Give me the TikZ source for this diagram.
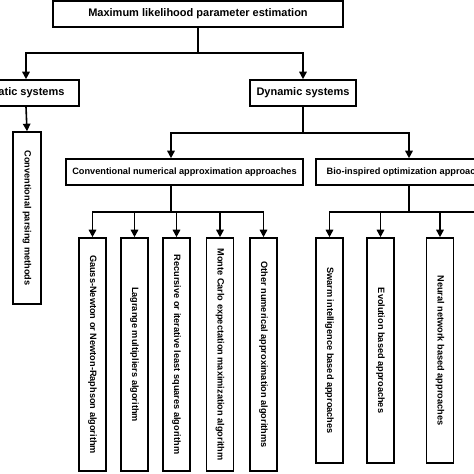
\documentclass[tikz,border=0pt]{standalone}
\usepackage{fontspec}
\setmainfont{Liberation Sans}
\usetikzlibrary{arrows.meta}
\begin{document}
\begin{tikzpicture}[x=1pt,y=-1pt,
  box/.style={draw=black,line width=1.6pt,fill=white,inner sep=0pt,font=\bfseries\fontsize{11}{13}\selectfont},
  midbox/.style={box,font=\bfseries\fontsize{9.2}{11}\selectfont},
  vbox/.style={box,rotate=-90,font=\bfseries\fontsize{9.2}{11}\selectfont},
  link/.style={line width=1.6pt},
  arr/.style={line width=1.6pt,-{Triangle[length=7.5pt,width=7.5pt]}}]
\useasboundingbox (0,0) rectangle (474,474);
\clip (0,0) rectangle (474,474);
\fill[white] (0,0) rectangle (474,474);
% level 0
\node[box,minimum width=290pt,minimum height=26pt] (top) at (198,14) {Maximum likelihood parameter estimation};
% level 1
\node[box,minimum width=106pt,minimum height=26pt] (static) at (26,93) {Static systems};
\node[box,minimum width=106pt,minimum height=26pt] (dyn) at (303,93) {Dynamic systems};
\node[vbox,minimum width=172pt,minimum height=28pt] (parse) at (27,218) {Conventional parsing methods};
% level 2
\node[midbox,minimum width=237pt,minimum height=26pt] (conv) at (184.5,172) {Conventional numerical approximation approaches};
\node[midbox,minimum width=186pt,minimum height=26pt] (bio) at (409,172) {Bio-inspired optimization approaches};
% leaves
\node[vbox,minimum width=233pt,minimum height=27pt] (c1) at (92.5,354.5) {Gauss-Newton or Newton-Raphson algorithm};
\node[vbox,minimum width=233pt,minimum height=27pt] (c2) at (134.5,354.5) {Lagrange multipliers algorithm};
\node[vbox,minimum width=233pt,minimum height=27pt] (c3) at (176.5,354.5) {Recursive or iterative least squares algorithm};
\node[vbox,minimum width=233pt,minimum height=27pt] (c4) at (220,354.5) {Monte Carlo expectation maximization algorithm};
\node[vbox,minimum width=233pt,minimum height=27pt] (c5) at (263.5,354.5) {Other numerical approximation algorithms};
\node[vbox,minimum width=225pt,minimum height=27pt] (b1) at (329.5,350.5) {Swarm intelligence based approaches};
\node[vbox,minimum width=225pt,minimum height=27pt] (b2) at (380.5,350.5) {Evolution based approaches};
\node[vbox,minimum width=225pt,minimum height=27pt] (b3) at (440,350.5) {Neural network based approaches};
% junctions
\coordinate (j0) at (198,53);
\coordinate (j1) at (303,133);
\coordinate (j2) at (171,212);
\coordinate (j3) at (409,212);
\coordinate (bioend) at (490,212);
% connectors
\draw[link] (top.south) -- (j0);
\draw[arr] (j0) -| (static.north);
\draw[arr] (j0) -| (dyn.north);
\draw[arr] (static.south) -- (parse.west);
\draw[link] (dyn.south) -- (j1);
\draw[arr] (j1) -| ([xshift=-13.5pt]conv.north);
\draw[arr] (j1) -| (bio.north);
\draw[link] ([xshift=-13.5pt]conv.south) -- (j2);
\foreach \n in {c1,c2,c3,c4,c5} \draw[arr] (j2) -| (\n.west);
\draw[link] (bio.south) -- (j3);
\foreach \n in {b1,b2,b3} \draw[arr] (j3) -| (\n.west);
\draw[link] (j3) -- (bioend);
\end{tikzpicture}
\end{document}
